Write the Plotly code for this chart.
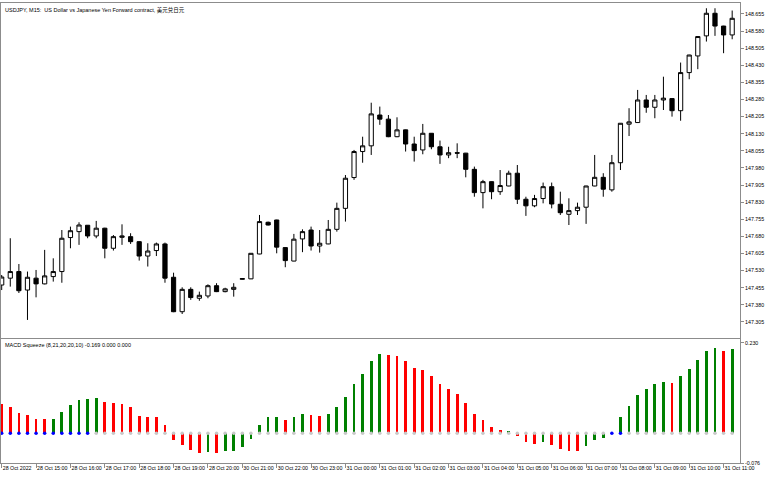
import plotly.graph_objects as go

# ---------------- data ----------------
open_ = [147.467, 147.497, 147.526, 147.445, 147.497, 147.472, 147.504, 147.526, 147.675, 147.701,
         147.729, 147.682, 147.716, 147.628, 147.676, 147.679, 147.657, 147.594, 147.618, 147.647,
         147.501, 147.350, 147.448, 147.409, 147.419, 147.464, 147.438, 147.448, 147.492, 147.494,
         147.603, 147.742, 147.752, 147.631, 147.572, 147.669, 147.708, 147.638, 147.647, 147.711,
         147.803, 147.938, 148.052, 148.077, 148.212, 148.194, 148.117, 148.147, 148.085, 148.059,
         148.132, 148.073, 148.037, 148.047, 148.045, 147.974, 147.872, 147.920, 147.876, 147.901,
         147.957, 147.843, 147.814, 147.846, 147.898, 147.821, 147.777, 147.793, 147.808, 147.901,
         147.939, 147.884, 148.003, 148.172, 148.179, 148.278, 148.246, 148.278, 148.284, 148.231,
         148.398, 148.471, 148.559, 148.658, 148.602, 148.563]
high = [147.511, 147.672, 147.559, 147.526, 147.533, 147.621, 147.584, 147.708, 147.723, 147.742,
        147.730, 147.748, 147.718, 147.686, 147.733, 147.694, 147.659, 147.650, 147.653, 147.653,
        147.521, 147.457, 147.457, 147.438, 147.470, 147.475, 147.455, 147.475, 147.496, 147.607,
        147.774, 147.745, 147.753, 147.632, 147.691, 147.711, 147.723, 147.708, 147.752, 147.828,
        147.949, 148.059, 148.117, 148.266, 148.249, 148.212, 148.202, 148.148, 148.117, 148.173,
        148.133, 148.100, 148.073, 148.088, 148.046, 147.986, 147.928, 147.921, 147.971, 147.968,
        147.993, 147.854, 147.862, 147.916, 147.916, 147.876, 147.847, 147.828, 147.902, 148.037,
        147.957, 148.037, 148.177, 148.242, 148.322, 148.300, 148.300, 148.380, 148.285, 148.442,
        148.476, 148.557, 148.680, 148.680, 148.603, 148.670]
low = [147.445, 147.460, 147.432, 147.314, 147.413, 147.470, 147.482, 147.477, 147.628, 147.643,
       147.672, 147.672, 147.584, 147.618, 147.643, 147.647, 147.574, 147.548, 147.594, 147.477,
       147.348, 147.340, 147.402, 147.398, 147.409, 147.436, 147.435, 147.416, 147.491, 147.493,
       147.602, 147.728, 147.606, 147.545, 147.571, 147.611, 147.618, 147.609, 147.646, 147.701,
       147.745, 147.928, 148.003, 148.037, 148.169, 148.115, 148.115, 148.052, 148.008, 148.040,
       148.062, 147.998, 148.023, 148.023, 147.939, 147.854, 147.803, 147.843, 147.862, 147.900,
       147.822, 147.770, 147.808, 147.825, 147.803, 147.774, 147.730, 147.774, 147.735, 147.900,
       147.854, 147.876, 147.971, 148.120, 148.178, 148.222, 148.198, 148.234, 148.205, 148.187,
       148.369, 148.413, 148.534, 148.559, 148.483, 148.544]
close = [147.502, 147.526, 147.442, 147.501, 147.472, 147.507, 147.526, 147.672, 147.705, 147.730,
         147.682, 147.716, 147.628, 147.679, 147.682, 147.657, 147.594, 147.616, 147.647, 147.497,
         147.350, 147.448, 147.412, 147.422, 147.464, 147.438, 147.450, 147.457, 147.495, 147.606,
         147.745, 147.730, 147.633, 147.574, 147.668, 147.701, 147.638, 147.650, 147.711, 147.803,
         147.935, 148.052, 148.077, 148.217, 148.194, 148.117, 148.147, 148.085, 148.056, 148.132,
         148.073, 148.037, 148.047, 148.045, 147.974, 147.872, 147.920, 147.876, 147.903, 147.957,
         147.843, 147.814, 147.846, 147.898, 147.822, 147.784, 147.793, 147.808, 147.901, 147.939,
         147.887, 148.003, 148.176, 148.182, 148.278, 148.246, 148.278, 148.286, 148.231, 148.398,
         148.475, 148.556, 148.658, 148.602, 148.563, 148.636]

hist = [0.0736, 0.0678, 0.0506, 0.0455, 0.0371, 0.0353, 0.0363, 0.0550, 0.0711, 0.0857,
        0.0882, 0.0908, 0.0805, 0.0780, 0.0747, 0.0678, 0.0440, 0.0422, 0.0414, 0.0199,
        -0.0174, -0.0312, -0.0430, -0.0517, -0.0481, -0.0517, -0.0455, -0.0450, -0.0363, -0.0159,
        0.0199, 0.0414, 0.0422, 0.0338, 0.0414, 0.0499, 0.0455, 0.0440, 0.0499, 0.0670,
        0.0933, 0.1266, 0.1521, 0.1846, 0.2015, 0.1989, 0.1964, 0.1828, 0.1657, 0.1606,
        0.1452, 0.1266, 0.1120, 0.0992, 0.0780, 0.0481, 0.0327, 0.0148, 0.0072, 0.0056,
        -0.0072, -0.0225, -0.0268, -0.0225, -0.0302, -0.0414, -0.0455, -0.0455, -0.0327, -0.0184,
        -0.0133, 0.0000, 0.0414, 0.0685, 0.0977, 0.1120, 0.1248, 0.1317, 0.1273, 0.1445,
        0.1631, 0.1862, 0.2102, 0.2168, 0.2102, 0.2143]
hist_state = list("RRRRRRGGGGGGRRRRRRRRRRRRGRGGGGGGGRGGRRGGGGGGGRRRRRRRRRRRRRRGRRRGRRRRGGGGGGGGGGRGGGGGRG")
squeeze_on = [0, 1, 2, 3, 4, 5, 6, 7, 8, 9, 10, 71, 72]

price_ticks = [148.655, 148.580, 148.505, 148.430, 148.355, 148.280, 148.205, 148.130, 148.055,
               147.980, 147.905, 147.830, 147.755, 147.680, 147.605, 147.530, 147.455, 147.380, 147.305]
time_labels = ["28 Oct 2022", "28 Oct 15:00", "28 Oct 16:00", "28 Oct 17:00", "28 Oct 18:00",
               "28 Oct 19:00", "28 Oct 20:00", "30 Oct 21:00", "30 Oct 22:00", "30 Oct 23:00",
               "31 Oct 00:00", "31 Oct 01:00", "31 Oct 02:00", "31 Oct 03:00", "31 Oct 04:00",
               "31 Oct 05:00", "31 Oct 06:00", "31 Oct 07:00", "31 Oct 08:00", "31 Oct 09:00",
               "31 Oct 10:00", "31 Oct 11:00"]
macd_ticks = [0.230, -0.076]
title_main = "USDJPY, M15:  US Dollar vs Japanese Yen Forward contract, 美元兑日元"
title_macd = "MACD Squeeze (8,21,20,20,10) -0.169 0.000 0.000"

# ---------------- figure ----------------
n = len(close)
idx = list(range(n))
FONT = "Liberation Sans, Arial, Noto Sans CJK SC, sans-serif"
AXC = "#8c8c8c"

bar_colors = ["#008000" if s == "G" else "#ff0000" for s in hist_state]
dot_colors = ["#0000ff" if i in squeeze_on else "#c8c8c8" for i in idx]

fig = go.Figure()
fig.add_trace(go.Candlestick(
    x=idx, open=open_, high=high, low=low, close=close,
    xaxis="x", yaxis="y",
    increasing=dict(fillcolor="white", line=dict(color="black", width=1)),
    decreasing=dict(fillcolor="black", line=dict(color="black", width=1)),
    whiskerwidth=0, showlegend=False, hoverinfo="skip"))
fig.add_trace(go.Bar(x=idx, y=hist, marker=dict(color=bar_colors, line=dict(width=0)),
                     width=0.32, xaxis="x2", yaxis="y2", showlegend=False, hoverinfo="skip"))
fig.add_trace(go.Scatter(x=idx, y=[0] * n, mode="markers",
                         marker=dict(size=3.5, color=dot_colors, line=dict(width=0)),
                         xaxis="x2", yaxis="y2", showlegend=False, hoverinfo="skip"))

xr = [-0.08, 85.91]
tf = dict(size=5.3, family=FONT, color="black")
fig.update_layout(
    width=768, height=478,
    margin=dict(l=1, r=28, t=3, b=15),
    paper_bgcolor="white", plot_bgcolor="white",
    font=dict(family=FONT, size=5.5, color="black"),
    showlegend=False,
    bargap=0,
    xaxis=dict(domain=[0, 1], range=xr, anchor="y", showticklabels=False, ticks="",
               showgrid=False, zeroline=False, showline=True, mirror=True, automargin=False,
               linecolor=AXC, linewidth=1, rangeslider=dict(visible=False)),
    yaxis=dict(domain=[0.2707, 1], range=[147.2327, 148.703], side="right", anchor="x",
               tickvals=price_ticks, ticktext=[f"{v:.3f}" for v in price_ticks],
               ticks="outside", ticklen=3, tickcolor=AXC, showgrid=False, zeroline=False,
               showline=True, mirror=True, linecolor=AXC, linewidth=1, automargin=False,
               tickfont=tf),
    xaxis2=dict(domain=[0, 1], range=xr, anchor="y2",
                tickvals=list(range(0, 85, 4)), ticktext=time_labels,
                ticklabelposition="outside right", tickangle=0, automargin=False,
                ticks="outside", ticklen=4, tickcolor=AXC, showgrid=False, zeroline=False,
                showline=True, mirror=True, linecolor=AXC, linewidth=1,
                tickfont=tf),
    yaxis2=dict(domain=[0, 0.2696], range=[-0.076, 0.240], side="right", anchor="x2",
                tickvals=macd_ticks, ticktext=[f"{v:.3f}" for v in macd_ticks],
                ticks="outside", ticklen=3, tickcolor=AXC, showgrid=False, zeroline=False,
                showline=True, mirror=True, linecolor=AXC, linewidth=1, automargin=False,
                tickfont=tf),
    annotations=[
        dict(text=title_main, xref="paper", yref="paper", x=0.003, y=0.997,
             xanchor="left", yanchor="top", showarrow=False,
             font=dict(size=5.5, family=FONT, color="black")),
        dict(text=title_macd, xref="paper", yref="paper", x=0.003, y=0.2675,
             xanchor="left", yanchor="top", showarrow=False,
             font=dict(size=5.5, family=FONT, color="black")),
    ],
)

fig.write_html("out.html")
